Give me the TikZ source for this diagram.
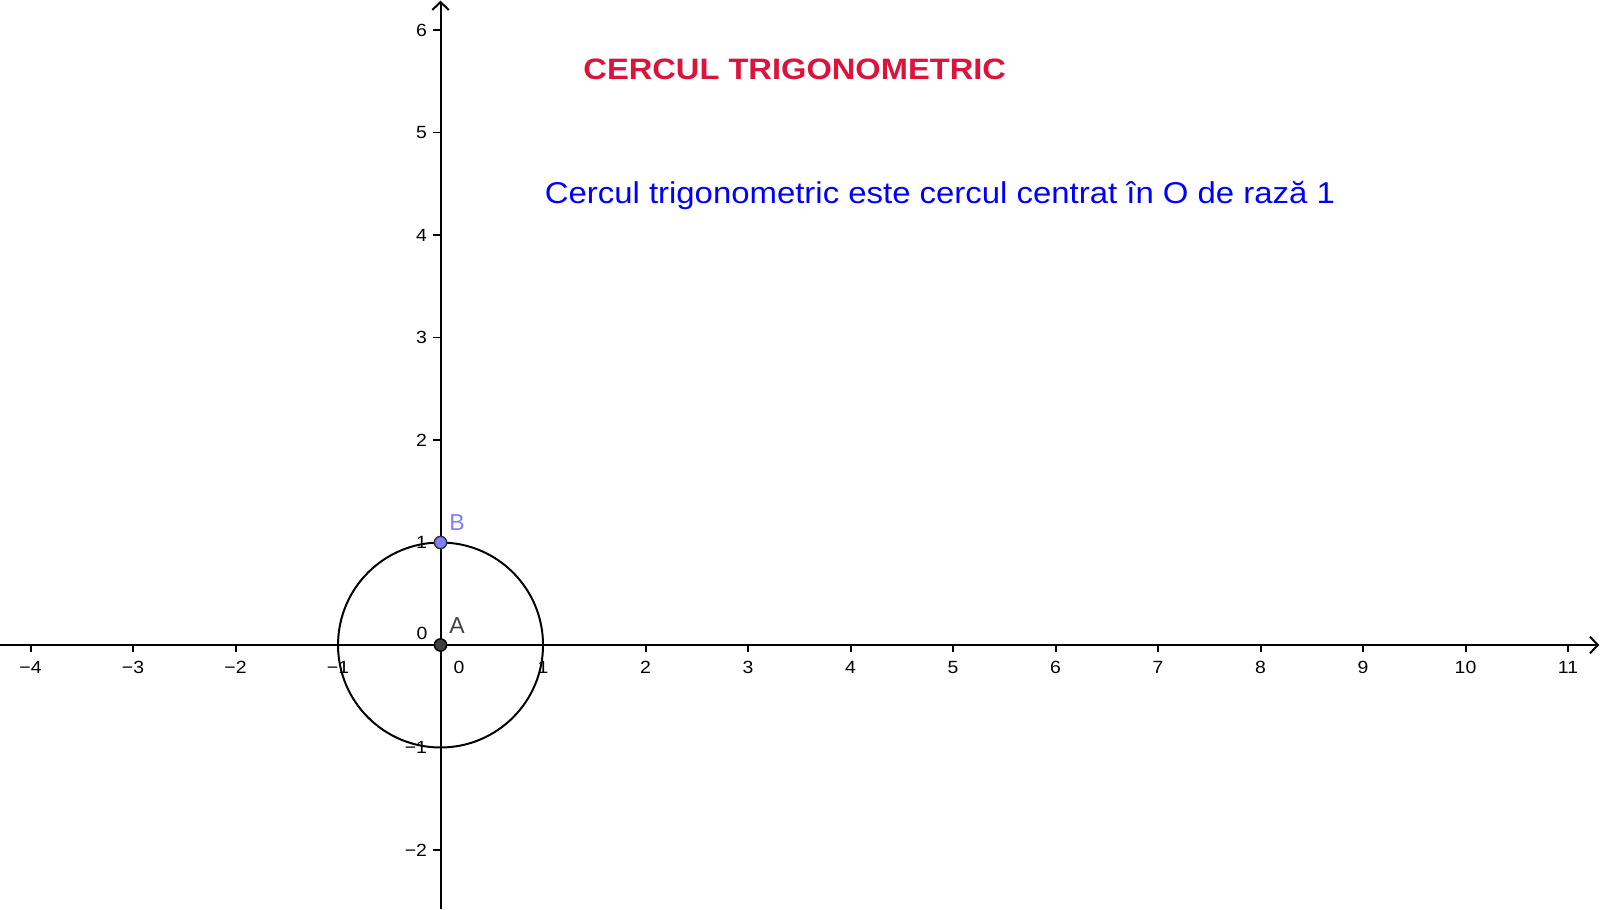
\documentclass[tikz,border=0pt]{standalone}
\usepackage{fontspec}
\setmainfont{Liberation Sans}
\usetikzlibrary{arrows.meta}
\definecolor{titlered}{RGB}{220,20,60}
\definecolor{ptblue}{RGB}{127,127,255}
\definecolor{ptgray}{RGB}{64,64,64}
\tikzset{
  axisline/.style={line width=0.55pt,-{Straight Barb[length=2.2pt,width=4.6pt,line width=0.55pt]}},
  tickmark/.style={line width=0.55pt},
  ticklab/.style={inner sep=0pt,xscale=1.1,font=\fontsize{4.9}{6}\selectfont},
  ptlab/.style={inner sep=0pt,font=\fontsize{6.4}{7.5}\selectfont},
  pointA/.style={circle,inner sep=0pt,minimum size=0.12cm,fill=ptgray,draw=black,line width=0.4pt},
  pointB/.style={circle,inner sep=0pt,minimum size=0.12cm,fill=ptblue,draw=black!80,line width=0.4pt},
}
\begin{document}
\begin{tikzpicture}[x=1cm,y=1cm]
\useasboundingbox (-4.298,-2.576) rectangle (11.312,6.293);
% axes
\coordinate (xl) at (-4.298,0);
\coordinate (xr) at (11.305,0);
\coordinate (yb) at (0,-2.576);
\coordinate (yt) at (0,6.286);
\draw[axisline] (xl) -- (xr);
\draw[axisline] (yb) -- (yt);
% x ticks
\foreach \n/\s in {-4/−4,-3/−3,-2/−2,-1/−1,1/1,2/2,3/3,4/4,5/5,6/6,7/7,8/8,9/9,10/10,11/11}{
  \coordinate (xt\n) at (\n,0);
  \coordinate (xu\n) at (\n,-0.07);
  \draw[tickmark] (xt\n) -- (xu\n);
  \node[ticklab,anchor=base] (xlab\n) at (\n,-0.278) {\s};
}
% y ticks
\foreach \n/\s in {-2/−2,-1/−1,1/1,2/2,3/3,4/4,5/5,6/6}{
  \coordinate (yt\n) at (0,\n);
  \coordinate (yu\n) at (-0.07,\n);
  \draw[tickmark] (yt\n) -- (yu\n);
  \node[ticklab,anchor=east] (ylab\n) at (-0.125,\n) {\s};
}
\node[ticklab] (xlab0) at (0.18,-0.215) {0};
\node[ticklab] (ylab0) at (-0.18,0.117) {0};
% circle
\coordinate (O) at (0,0);
\draw[line width=0.55pt] (O) circle (1);
% points
\node[pointA] (A) at (0,0) {};
\node[pointB] (B) at (0,1) {};
\node[ptlab,anchor=base,text=ptgray] (Alab) at (0.161,0.114) {A};
\node[ptlab,anchor=base,text=ptblue] (Blab) at (0.161,1.115) {B};
% texts
\node[inner sep=0pt,anchor=base west,xscale=1.105,text=titlered,font=\bfseries\fontsize{8.2}{10}\selectfont] (title) at (1.387,5.519) {CERCUL TRIGONOMETRIC};
\node[inner sep=0pt,anchor=base west,xscale=1.094,text=blue,font=\fontsize{8.35}{10}\selectfont] (desc) at (1.01,4.309) {Cercul trigonometric este cercul centrat în O de rază 1};
\end{tikzpicture}
\end{document}
